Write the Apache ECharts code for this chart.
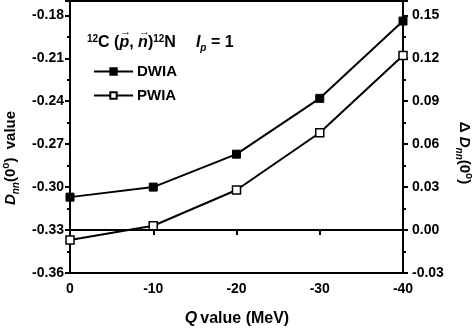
<!DOCTYPE html>
<html>
<head>
<meta charset="utf-8">
<script src="https://cdn.jsdelivr.net/npm/echarts@6/dist/echarts.min.js"></script>
<style>
  html, body { margin: 0; padding: 0; background: #fff; }
  #chart { width: 474px; height: 329px; }
</style>
</head>
<body>
<div id="chart"></div>
<script>
// Q values (MeV) and D_nn(0°) for the two approximations
const qValues = [0, -10, -20, -30, -40];
const dwia = [-0.307, -0.300, -0.277, -0.238, -0.184];
const pwia = [-0.337, -0.327, -0.302, -0.262, -0.208];
const seriesNames = ['DWIA', 'PWIA'];
const refLevel = -0.33; // ΔD_nn = 0 on the right-hand scale

const FONT = 'Liberation Sans, Arial, sans-serif';
const TICK_SIZE = 14;
const chart = echarts.init(document.getElementById('chart'));

const pairs = vals => qValues.map((q, i) => [q, vals[i]]);
const tickStyle = { color: '#000', width: 2 };

// text measuring, used to put the polarization arrows over p and n
const ctx = document.createElement('canvas').getContext('2d');
const textWidth = (s, font) => { ctx.font = font; return ctx.measureText(s).width; };
const TITLE_SIZE = 16, SUP_SIZE = 10;
const fBold = `bold ${TITLE_SIZE}px ${FONT}`;
const fItal = `italic bold ${TITLE_SIZE}px ${FONT}`;
const fSup = `bold ${SUP_SIZE}px ${FONT}`;
const titleLeft = 87;
const pLeft = titleLeft + textWidth('12', fSup) + textWidth('C (', fBold);
const pMid = pLeft + textWidth('p', fItal) / 2 + 1.5;
const nLeft = pLeft + textWidth('p', fItal) + textWidth(', ', fBold);
const nMid = nLeft + textWidth('n', fItal) / 2 + 1.5;

const arrow = cx => ({
  type: 'text', x: cx, y: 32,
  style: { text: '\u2192', align: 'center', verticalAlign: 'middle', fontFamily: FONT, fontWeight: 'bold', fontSize: 11, fill: '#000' }
});

const richAxis = {
  t: { fontFamily: FONT, fontWeight: 'bold', fontSize: 15, fill: '#000' },
  it: { fontFamily: FONT, fontWeight: 'bold', fontStyle: 'italic', fontSize: 15, fill: '#000' },
  sub: { fontFamily: FONT, fontWeight: 'bold', fontStyle: 'italic', fontSize: 10, fill: '#000', padding: [10, 0, 0, 0] },
  sup: { fontFamily: FONT, fontWeight: 'bold', fontSize: 10, fill: '#000', padding: [0, 0, 9, 0] }
};

const valueAxis = (pos, min, max, margin) => ({
  type: 'value', position: pos, min, max, interval: 0.03,
  axisLine: { show: true, lineStyle: { color: '#000', width: 2 } },
  axisTick: { show: true, length: 5, lineStyle: tickStyle },
  minorTick: { show: true, splitNumber: 2, length: 3, lineStyle: tickStyle },
  splitLine: { show: false },
  axisLabel: {
    margin, showMaxLabel: false, color: '#000', fontFamily: FONT, fontWeight: 'bold', fontSize: TICK_SIZE,
    formatter: v => v.toFixed(2)
  }
});

chart.setOption({
  animation: false,
  backgroundColor: '#fff',
  grid: {
    left: 70, right: 71, top: 1, bottom: 56,
    show: true, borderColor: '#000', borderWidth: 2
  },
  legend: {
    data: seriesNames,
    orient: 'vertical',
    left: 93, top: 64, padding: 0,
    itemWidth: 39, itemHeight: 8, itemGap: 9,
    textStyle: { fontFamily: FONT, fontWeight: 'bold', fontSize: 15, color: '#000', padding: [0, 0, 0, -1] }
  },
  xAxis: {
    type: 'value', min: -40, max: 0, interval: 10, inverse: true,
    axisLine: { lineStyle: { color: '#000', width: 2 } },
    axisTick: { length: 5, lineStyle: tickStyle },
    splitLine: { show: false },
    axisLabel: { margin: 9, color: '#000', fontFamily: FONT, fontWeight: 'bold', fontSize: TICK_SIZE }
  },
  yAxis: [
    valueAxis('left', -0.36, -0.17, 6),
    valueAxis('right', -0.03, 0.16, 9)
  ],
  series: [
    {
      name: seriesNames[0], type: 'line', yAxisIndex: 0,
      data: pairs(dwia),
      symbol: 'rect', symbolSize: 8,
      lineStyle: { color: '#000', width: 2 },
      itemStyle: { color: '#000', borderColor: '#000', borderWidth: 1 },
      markLine: {
        silent: true, symbol: 'none', label: { show: false },
        lineStyle: { color: '#000', width: 1.5, type: [4, 2] },
        data: [{ yAxis: refLevel }]
      },
      z: 3
    },
    {
      name: seriesNames[1], type: 'line', yAxisIndex: 0,
      data: pairs(pwia),
      symbol: 'rect', symbolSize: 8,
      lineStyle: { color: '#000', width: 2 },
      itemStyle: { color: '#fff', borderColor: '#000', borderWidth: 1.5 },
      z: 3
    }
  ],
  graphic: [
    // reaction label
    {
      type: 'text', x: titleLeft, y: 43,
      style: {
        text: '{sup|12}{t|C (}{it|p}{t|, }{it|n}{t|)}{sup|12}{t|N}{gap|}{it|I}{sub|p}{t| = 1}',
        verticalAlign: 'middle',
        rich: {
          t: { fontFamily: FONT, fontWeight: 'bold', fontSize: TITLE_SIZE, fill: '#000' },
          it: { fontFamily: FONT, fontWeight: 'bold', fontStyle: 'italic', fontSize: TITLE_SIZE, fill: '#000' },
          sup: { fontFamily: FONT, fontWeight: 'bold', fontSize: SUP_SIZE, fill: '#000', padding: [0, 0, 8, 0] },
          sub: { fontFamily: FONT, fontWeight: 'bold', fontStyle: 'italic', fontSize: SUP_SIZE, fill: '#000', padding: [10, 0, 0, 0] },
          gap: { width: 20 }
        }
      }
    },
    arrow(pMid),
    arrow(nMid),
    // left axis title
    {
      type: 'text', x: 11, y: 158, rotation: Math.PI / 2,
      style: {
        text: '{it|D}{sub|nn}{t|(0}{sup|o}{t|)  value}',
        align: 'center', verticalAlign: 'middle',
        rich: richAxis
      }
    },
    // right axis title
    {
      type: 'text', x: 464, y: 153, rotation: -Math.PI / 2,
      style: {
        text: '{t|\u0394 }{it|D}{sub|nn}{t|(0}{sup|o}{t|)}',
        align: 'center', verticalAlign: 'middle',
        rich: richAxis
      }
    },
    // x axis title
    {
      type: 'text', x: 237, y: 319,
      style: {
        text: '{it|Q}{t|value (MeV)}',
        align: 'center', verticalAlign: 'middle',
        rich: {
          t: { fontFamily: FONT, fontWeight: 'bold', fontSize: 16, fill: '#000' },
          it: { fontFamily: FONT, fontWeight: 'bold', fontStyle: 'italic', fontSize: 16, fill: '#000', padding: [0, 3, 0, 0] }
        }
      }
    }
  ]
});
</script>
</body>
</html>
